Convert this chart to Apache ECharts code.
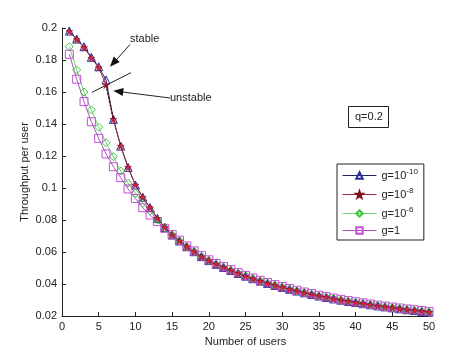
<!DOCTYPE html>
<html>
<head>
<meta charset="utf-8">
<script src="https://cdn.jsdelivr.net/npm/echarts@6/dist/echarts.min.js"></script>
<style>
html,body{margin:0;padding:0;background:#fff;}
#c{width:474px;height:355px;}
</style>
</head>
<body>
<div id="c"></div>
<script>
const users = [1,2,3,4,5,6,7,8,9,10,11,12,13,14,15,16,17,18,19,20,21,22,23,24,25,26,27,28,29,30,31,32,33,34,35,36,37,38,39,40,41,42,43,44,45,46,47,48,49,50];

const g1e10 = [0.1981,0.1931,0.1883,0.1817,0.1758,0.1675,0.1429,0.1262,0.1129,0.1019,
0.0942,0.0877,0.0810,0.0754,0.0706,0.0669,0.0633,0.0602,0.0571,0.0546,
0.0523,0.0504,0.0485,0.0466,0.0449,0.0433,0.0418,0.0404,0.0391,0.0379,
0.0367,0.0356,0.0345,0.0335,0.0325,0.0316,0.0307,0.0299,0.0291,0.0284,
0.0277,0.0270,0.0263,0.0257,0.0251,0.0245,0.0239,0.0234,0.0229,0.0224];

const g1e8 = [0.1979,0.1928,0.1878,0.1812,0.1752,0.1644,0.1429,0.1262,0.1129,0.1019,
0.0942,0.0877,0.0810,0.0754,0.0706,0.0669,0.0633,0.0602,0.0571,0.0546,
0.0523,0.0504,0.0485,0.0466,0.0449,0.0433,0.0418,0.0404,0.0391,0.0379,
0.0367,0.0356,0.0345,0.0335,0.0325,0.0316,0.0307,0.0299,0.0291,0.0284,
0.0277,0.0270,0.0263,0.0257,0.0251,0.0245,0.0239,0.0234,0.0229,0.0224];

const g1e6 = [0.1883,0.1738,0.1600,0.1488,0.1380,0.1283,0.1196,0.1106,0.1030,0.0967,
0.0904,0.0855,0.0800,0.0752,0.0708,0.0670,0.0635,0.0604,0.0573,0.0548,
0.0525,0.0506,0.0487,0.0468,0.0451,0.0435,0.0420,0.0406,0.0393,0.0381,
0.0369,0.0358,0.0347,0.0337,0.0327,0.0318,0.0309,0.0301,0.0293,0.0286,
0.0279,0.0272,0.0265,0.0259,0.0253,0.0247,0.0241,0.0236,0.0231,0.0226];

const g1 = [0.1836,0.1680,0.1540,0.1414,0.1310,0.1213,0.1133,0.1065,0.0994,0.0935,
0.0877,0.0831,0.0790,0.0748,0.0710,0.0674,0.0638,0.0607,0.0577,0.0551,
0.0528,0.0509,0.0490,0.0471,0.0454,0.0438,0.0423,0.0409,0.0396,0.0384,
0.0372,0.0361,0.0350,0.0340,0.0330,0.0321,0.0312,0.0304,0.0296,0.0289,
0.0282,0.0275,0.0268,0.0262,0.0256,0.0250,0.0244,0.0239,0.0234,0.0229];

// dotted transition of the g=1e-8 curve between 6 and 7 users
const transitionUsers = [6, 7];
const transitionVals = [0.1644, 0.1429];

const seriesNames = ['g=10^-10', 'g=10^-8', 'g=10^-6', 'g=1'];
const xTicks = [0,5,10,15,20,25,30,35,40,45,50];
const yTicks = [0.02,0.04,0.06,0.08,0.1,0.12,0.14,0.16,0.18,0.2];

const pairs = (xs, ys) => xs.map((x, i) => [x, ys[i]]);
const starPath = 'path://M0,-10 L2.4,-3.2 L9.5,-3.1 L3.8,1.2 L5.9,8.1 L0,4 L-5.9,8.1 L-3.8,1.2 L-9.5,-3.1 L-2.4,-3.2 Z';

const chart = echarts.init(document.getElementById('c'), null, {renderer: 'canvas'});
const font = 'Liberation Sans, Arial, sans-serif';

function mkLine(name, data, lineColor, symbol, size, itemStyle, z) {
  return {
    name, type: 'line', data: pairs(users, data), z: z,
    symbol, symbolSize: size, showSymbol: true,
    lineStyle: {color: lineColor, width: 1},
    itemStyle: itemStyle,
    emphasis: {disabled: true},
    animation: false
  };
}

chart.setOption({
  backgroundColor: '#fff',
  animation: false,
  grid: {left: 62, right: 45, top: 28, bottom: 39, containLabel: false},
  xAxis: {
    type: 'value', min: 0, max: 50, interval: 5,
    name: 'Number of users', nameLocation: 'middle', nameGap: 20, nameMoveOverlap: false,
    nameTextStyle: {fontFamily: font, fontSize: 11, color: '#222'},
    axisLine: {lineStyle: {color: '#222', width: 1}},
    axisTick: {inside: true, length: 4, lineStyle: {color: '#222'}},
    axisLabel: {fontFamily: font, fontSize: 11, color: '#222', margin: 5,
      formatter: v => xTicks.includes(v) ? String(v) : ''},
    splitLine: {show: false}
  },
  yAxis: {
    type: 'value', min: 0.02, max: 0.2, interval: 0.02,
    name: 'Throughput per user', nameLocation: 'middle', nameGap: 32, nameMoveOverlap: false,
    nameTextStyle: {fontFamily: font, fontSize: 11, color: '#222'},
    axisLine: {show: true, lineStyle: {color: '#222', width: 1}},
    axisTick: {show: true, inside: true, length: 4, lineStyle: {color: '#222'}},
    axisLabel: {fontFamily: font, fontSize: 11, color: '#222', margin: 5,
      formatter: v => {
        const t = yTicks.find(k => Math.abs(k - v) < 1e-9);
        return t === undefined ? '' : String(+t.toFixed(2));
      }},
    splitLine: {show: false}
  },
  legend: {
    orient: 'vertical', left: 337, top: 164,
    itemWidth: 34, itemHeight: 8, itemGap: 6,
    padding: [4, 6, 4, 5],
    borderColor: '#222', borderWidth: 1, backgroundColor: '#fff',
    lineStyle: {width: 1},
    data: seriesNames,
    textStyle: {fontFamily: font, fontSize: 11, color: '#222',
      rich: {
        b: {fontFamily: font, fontSize: 11, color: '#222'},
        s: {fontFamily: font, fontSize: 8, color: '#222', padding: [0, 0, 7, 0]}
      }},
    formatter: n => {
      const m = n.split('^');
      return m.length > 1 ? '{b|' + m[0] + '}{s|' + m[1] + '}' : '{b|' + n + '}';
    }
  },
  series: [
    mkLine(seriesNames[0], g1e10, '#24246e', 'triangle', 8,
      {color: 'rgba(0,0,0,0)', borderColor: '#2a2a9a', borderWidth: 1}, 2),
    mkLine(seriesNames[1], g1e8, '#9c2b3c', starPath, 7,
      {color: '#d8203c', borderColor: '#7a1020', borderWidth: 0.5}, 3),
    mkLine(seriesNames[2], g1e6, '#6fd46f', 'diamond', 8,
      {color: 'rgba(0,0,0,0)', borderColor: '#3ec43e', borderWidth: 1}, 2),
    mkLine(seriesNames[3], g1, '#b04cc4', 'rect', 8,
      {color: 'rgba(0,0,0,0)', borderColor: '#c050d4', borderWidth: 1}, 2),
    {
      name: 'transition', type: 'line', data: pairs(transitionUsers, transitionVals),
      symbol: 'none', z: 4,
      lineStyle: {color: '#111', width: 1.2, type: [2, 2]},
      emphasis: {disabled: true}, animation: false
    }
  ],
  graphic: [
    {type: 'text', left: 130, top: 33, style: {text: 'stable', fontFamily: font, fontSize: 11, fill: '#222'}},
    {type: 'line', shape: {x1: 130, y1: 44.5, x2: 115, y2: 61.3}, style: {stroke: '#222', lineWidth: 1}},
    {type: 'polygon', shape: {points: [[110, 66.7], [119.7, 61.9], [113.7, 56.5]]}, style: {fill: '#111'}},
    {type: 'text', left: 170, top: 92, style: {text: 'unstable', fontFamily: font, fontSize: 11, fill: '#222'}},
    {type: 'line', shape: {x1: 170, y1: 98, x2: 121, y2: 91.8}, style: {stroke: '#222', lineWidth: 1}},
    {type: 'polygon', shape: {points: [[113.3, 90.7], [123.7, 88.0], [122.7, 96.0]]}, style: {fill: '#111'}},
    {type: 'line', shape: {x1: 131, y1: 72.7, x2: 92, y2: 92.3}, style: {stroke: '#222', lineWidth: 1}},
    {type: 'rect', shape: {x: 348.5, y: 106.5, width: 40, height: 21}, style: {fill: '#fff', stroke: '#222', lineWidth: 1}},
    {type: 'text', left: 355, top: 111, style: {text: 'q=0.2', fontFamily: font, fontSize: 11, fill: '#222'}}
  ]
});
</script>
</body>
</html>
